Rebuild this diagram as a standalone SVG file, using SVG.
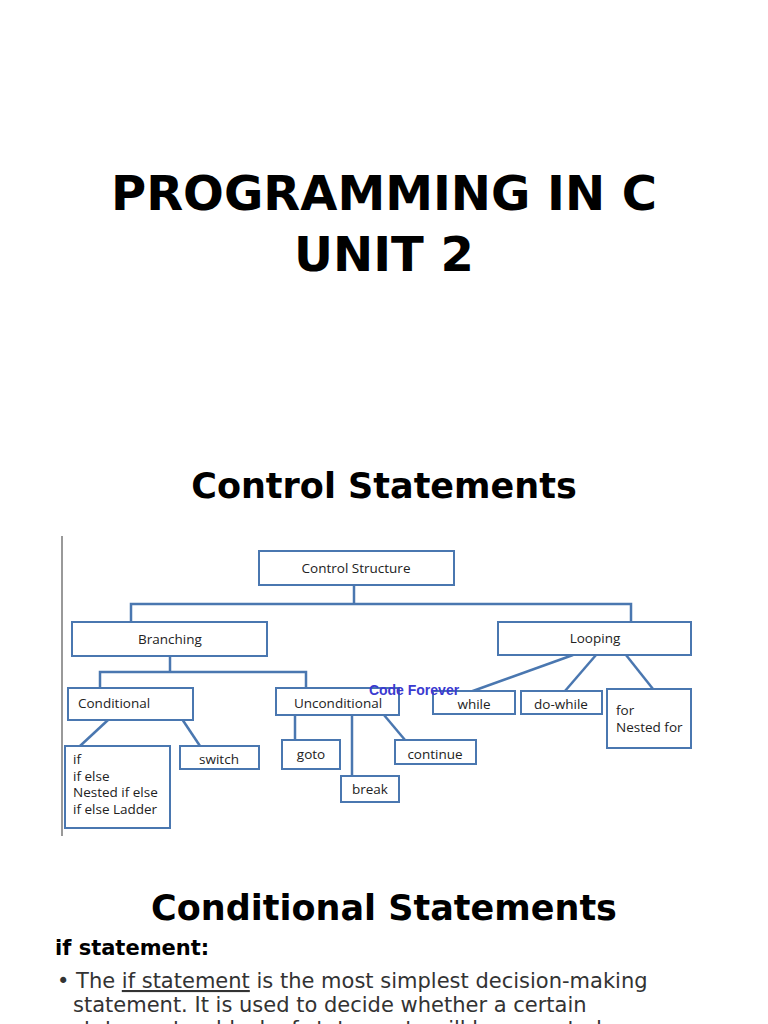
<svg xmlns="http://www.w3.org/2000/svg" width="768" height="1024" viewBox="0 0 768 1024">
<style>
.t{font-family:"DejaVu Sans",sans-serif;font-weight:bold;fill:#000;text-anchor:middle}
.b{fill:#fff;stroke:#4a77b0;stroke-width:2}
.l{font-family:"Open Sans","DejaVu Sans",sans-serif;font-size:13.5px;fill:#222}
.c{stroke:#4a77b0;stroke-width:2.5;fill:none}
.p{font-family:"DejaVu Sans",sans-serif;font-size:21px;fill:#333}
</style>
<rect width="768" height="1024" fill="#fff"/>
<text class="t" x="384" y="210" font-size="48">PROGRAMMING IN C</text>
<text class="t" x="384" y="271" font-size="48">UNIT 2</text>
<text class="t" x="384" y="498" font-size="35">Control Statements</text>
<line x1="62" y1="536" x2="62" y2="836" stroke="#999" stroke-width="2"/>
<g id="connectors" class="c">
<polyline points="354,585 354,604"/><polyline points="131,622 131,604 631,604 631,622"/>
<polyline points="170,656 170,672"/><polyline points="100,688 100,672 306,672 306,688"/>
<line x1="108" y1="720" x2="80" y2="746"/><line x1="180" y1="716" x2="200" y2="746"/>
<line x1="295" y1="715" x2="295" y2="740"/><line x1="352" y1="715" x2="352" y2="776"/><line x1="384" y1="715" x2="405" y2="740"/>
<line x1="573" y1="655" x2="470" y2="692"/><line x1="596" y1="655" x2="565" y2="691"/><line x1="626" y1="655" x2="653" y2="689"/>
</g>
<g id="cs"><rect class="b" x="259" y="551" width="195" height="34"/><text class="l" x="356" y="573" text-anchor="middle" font-size="15">Control Structure</text></g>
<g id="branching"><rect class="b" x="72" y="622" width="195" height="34"/><text class="l" x="170" y="644" text-anchor="middle" font-size="16">Branching</text></g>
<g id="looping"><rect class="b" x="498" y="622" width="193" height="33"/><text class="l" x="595" y="643" text-anchor="middle" font-size="16">Looping</text></g>
<g id="conditional"><rect class="b" x="68" y="688" width="125" height="32"/><text class="l" x="78" y="708">Conditional</text></g>
<g id="unconditional"><rect class="b" x="276" y="688" width="123" height="27"/><text class="l" x="338" y="708" text-anchor="middle">Unconditional</text></g>
<g id="while"><rect class="b" x="433" y="691" width="82" height="23"/><text class="l" x="474" y="709" text-anchor="middle">while</text></g>
<g id="dowhile"><rect class="b" x="521" y="691" width="81" height="23"/><text class="l" x="561" y="709" text-anchor="middle">do-while</text></g>
<g id="for"><rect class="b" x="607" y="689" width="84" height="59"/><text class="l" x="616" y="715">for</text><text class="l" x="616" y="732">Nested for</text></g>
<g id="if"><rect class="b" x="65" y="746" width="105" height="82"/><text class="l" x="73" y="764">if</text><text class="l" x="73" y="781">if else</text><text class="l" x="73" y="797">Nested if else</text><text class="l" x="73" y="814">if else Ladder</text></g>
<g id="switch"><rect class="b" x="180" y="746" width="79" height="23"/><text class="l" x="219" y="764" text-anchor="middle">switch</text></g>
<g id="goto"><rect class="b" x="282" y="740" width="58" height="29"/><text class="l" x="311" y="759" text-anchor="middle">goto</text></g>
<g id="continue"><rect class="b" x="395" y="740" width="81" height="24"/><text class="l" x="435" y="759" text-anchor="middle">continue</text></g>
<g id="break"><rect class="b" x="341" y="776" width="58" height="26"/><text class="l" x="370" y="794" text-anchor="middle">break</text></g>
<text x="414" y="695" text-anchor="middle" font-family="Liberation Sans,sans-serif" font-weight="bold" font-size="14" fill="#3a3ad0">Code Forever</text>
<text class="t" x="384" y="920" font-size="35">Conditional Statements</text>
<text x="55" y="955" font-family="DejaVu Sans,sans-serif" font-weight="bold" font-size="21" fill="#000">if statement:</text>
<text class="p" x="57" y="988">• The <tspan text-decoration="underline">if statement</tspan> is the most simplest decision-making</text>
<text class="p" x="73" y="1012">statement. It is used to decide whether a certain</text>
<text class="p" x="73" y="1036">statement or block of statements will be executed or</text>
</svg>
